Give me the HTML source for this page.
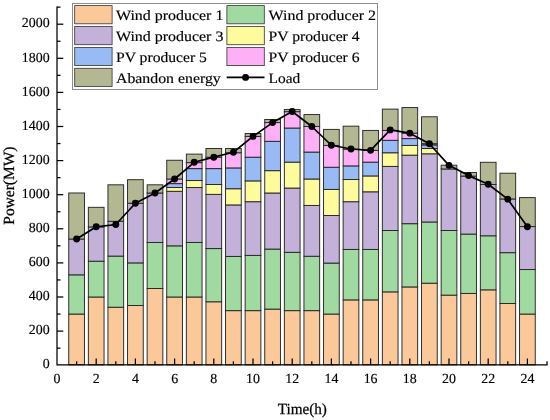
<!DOCTYPE html>
<html><head><meta charset="utf-8"><title>Power chart</title>
<style>html,body{margin:0;padding:0;background:#fff}svg{display:block}</style></head>
<body><svg width="550" height="420" viewBox="0 0 550 420" text-rendering="geometricPrecision">
<rect width="550" height="420" fill="#fff"/>
<g stroke="#262626" stroke-width="0.95">
<rect x="68.75" y="314.05" width="15.7" height="50.75" fill="#FBC999"/>
<rect x="68.75" y="274.83" width="15.7" height="39.21" fill="#A1DAA0"/>
<rect x="68.75" y="239.03" width="15.7" height="35.81" fill="#C3B1D9"/>
<rect x="68.75" y="192.99" width="15.7" height="46.03" fill="#B4B892"/>
<rect x="88.35" y="297.00" width="15.7" height="67.80" fill="#FBC999"/>
<rect x="88.35" y="261.19" width="15.7" height="35.81" fill="#A1DAA0"/>
<rect x="88.35" y="226.92" width="15.7" height="34.27" fill="#C3B1D9"/>
<rect x="88.35" y="207.32" width="15.7" height="19.61" fill="#B4B892"/>
<rect x="107.95" y="307.23" width="15.7" height="57.57" fill="#FBC999"/>
<rect x="107.95" y="256.08" width="15.7" height="51.15" fill="#A1DAA0"/>
<rect x="107.95" y="221.30" width="15.7" height="34.78" fill="#C3B1D9"/>
<rect x="107.95" y="184.81" width="15.7" height="36.49" fill="#B4B892"/>
<rect x="127.55" y="305.52" width="15.7" height="59.28" fill="#FBC999"/>
<rect x="127.55" y="262.90" width="15.7" height="42.62" fill="#A1DAA0"/>
<rect x="127.55" y="203.22" width="15.7" height="59.68" fill="#C3B1D9"/>
<rect x="127.55" y="179.70" width="15.7" height="23.53" fill="#B4B892"/>
<rect x="147.15" y="288.47" width="15.7" height="76.33" fill="#FBC999"/>
<rect x="147.15" y="242.44" width="15.7" height="46.03" fill="#A1DAA0"/>
<rect x="147.15" y="192.99" width="15.7" height="49.45" fill="#C3B1D9"/>
<rect x="147.15" y="184.81" width="15.7" height="8.18" fill="#B4B892"/>
<rect x="166.75" y="297.00" width="15.7" height="67.80" fill="#FBC999"/>
<rect x="166.75" y="245.85" width="15.7" height="51.15" fill="#A1DAA0"/>
<rect x="166.75" y="191.29" width="15.7" height="54.56" fill="#C3B1D9"/>
<rect x="166.75" y="187.54" width="15.7" height="3.75" fill="#FEFB9C"/>
<rect x="166.75" y="183.62" width="15.7" height="3.92" fill="#99BBF5"/>
<rect x="166.75" y="179.01" width="15.7" height="4.60" fill="#FEB0F6"/>
<rect x="166.75" y="160.26" width="15.7" height="18.75" fill="#B4B892"/>
<rect x="186.35" y="297.00" width="15.7" height="67.80" fill="#FBC999"/>
<rect x="186.35" y="242.44" width="15.7" height="54.56" fill="#A1DAA0"/>
<rect x="186.35" y="187.54" width="15.7" height="54.90" fill="#C3B1D9"/>
<rect x="186.35" y="180.55" width="15.7" height="6.99" fill="#FEFB9C"/>
<rect x="186.35" y="168.61" width="15.7" height="11.93" fill="#99BBF5"/>
<rect x="186.35" y="162.65" width="15.7" height="5.97" fill="#FEB0F6"/>
<rect x="186.35" y="154.12" width="15.7" height="8.53" fill="#B4B892"/>
<rect x="205.95" y="301.77" width="15.7" height="63.03" fill="#FBC999"/>
<rect x="205.95" y="248.58" width="15.7" height="53.20" fill="#A1DAA0"/>
<rect x="205.95" y="194.36" width="15.7" height="54.22" fill="#C3B1D9"/>
<rect x="205.95" y="184.47" width="15.7" height="9.89" fill="#FEFB9C"/>
<rect x="205.95" y="168.61" width="15.7" height="15.86" fill="#99BBF5"/>
<rect x="205.95" y="157.19" width="15.7" height="11.42" fill="#FEB0F6"/>
<rect x="205.95" y="148.49" width="15.7" height="8.70" fill="#B4B892"/>
<rect x="225.55" y="310.64" width="15.7" height="54.16" fill="#FBC999"/>
<rect x="225.55" y="256.42" width="15.7" height="54.22" fill="#A1DAA0"/>
<rect x="225.55" y="204.93" width="15.7" height="51.49" fill="#C3B1D9"/>
<rect x="225.55" y="188.73" width="15.7" height="16.20" fill="#FEFB9C"/>
<rect x="225.55" y="167.93" width="15.7" height="20.80" fill="#99BBF5"/>
<rect x="225.55" y="152.76" width="15.7" height="15.17" fill="#FEB0F6"/>
<rect x="225.55" y="148.49" width="15.7" height="4.26" fill="#B4B892"/>
<rect x="245.15" y="310.64" width="15.7" height="54.16" fill="#FBC999"/>
<rect x="245.15" y="255.40" width="15.7" height="55.24" fill="#A1DAA0"/>
<rect x="245.15" y="201.69" width="15.7" height="53.71" fill="#C3B1D9"/>
<rect x="245.15" y="180.89" width="15.7" height="20.80" fill="#FEFB9C"/>
<rect x="245.15" y="157.19" width="15.7" height="23.70" fill="#99BBF5"/>
<rect x="245.15" y="136.39" width="15.7" height="20.80" fill="#FEB0F6"/>
<rect x="245.15" y="133.49" width="15.7" height="2.90" fill="#B4B892"/>
<rect x="264.75" y="309.11" width="15.7" height="55.69" fill="#FBC999"/>
<rect x="264.75" y="249.09" width="15.7" height="60.02" fill="#A1DAA0"/>
<rect x="264.75" y="192.99" width="15.7" height="56.09" fill="#C3B1D9"/>
<rect x="264.75" y="170.66" width="15.7" height="22.34" fill="#FEFB9C"/>
<rect x="264.75" y="141.33" width="15.7" height="29.33" fill="#99BBF5"/>
<rect x="264.75" y="122.58" width="15.7" height="18.75" fill="#FEB0F6"/>
<rect x="264.75" y="119.51" width="15.7" height="3.07" fill="#B4B892"/>
<rect x="284.35" y="310.64" width="15.7" height="54.16" fill="#FBC999"/>
<rect x="284.35" y="252.33" width="15.7" height="58.31" fill="#A1DAA0"/>
<rect x="284.35" y="188.05" width="15.7" height="64.28" fill="#C3B1D9"/>
<rect x="284.35" y="162.13" width="15.7" height="25.92" fill="#FEFB9C"/>
<rect x="284.35" y="128.03" width="15.7" height="34.10" fill="#99BBF5"/>
<rect x="284.35" y="111.67" width="15.7" height="16.37" fill="#FEB0F6"/>
<rect x="284.35" y="109.45" width="15.7" height="2.22" fill="#B4B892"/>
<rect x="303.95" y="310.64" width="15.7" height="54.16" fill="#FBC999"/>
<rect x="303.95" y="256.25" width="15.7" height="54.39" fill="#A1DAA0"/>
<rect x="303.95" y="205.44" width="15.7" height="50.81" fill="#C3B1D9"/>
<rect x="303.95" y="179.01" width="15.7" height="26.43" fill="#FEFB9C"/>
<rect x="303.95" y="152.07" width="15.7" height="26.94" fill="#99BBF5"/>
<rect x="303.95" y="126.50" width="15.7" height="25.57" fill="#FEB0F6"/>
<rect x="303.95" y="114.56" width="15.7" height="11.94" fill="#B4B892"/>
<rect x="323.55" y="314.05" width="15.7" height="50.75" fill="#FBC999"/>
<rect x="323.55" y="263.07" width="15.7" height="50.98" fill="#A1DAA0"/>
<rect x="323.55" y="215.50" width="15.7" height="47.57" fill="#C3B1D9"/>
<rect x="323.55" y="189.41" width="15.7" height="26.09" fill="#FEFB9C"/>
<rect x="323.55" y="167.25" width="15.7" height="22.16" fill="#99BBF5"/>
<rect x="323.55" y="145.43" width="15.7" height="21.82" fill="#FEB0F6"/>
<rect x="323.55" y="129.40" width="15.7" height="16.03" fill="#B4B892"/>
<rect x="343.15" y="299.90" width="15.7" height="64.90" fill="#FBC999"/>
<rect x="343.15" y="249.43" width="15.7" height="50.47" fill="#A1DAA0"/>
<rect x="343.15" y="201.69" width="15.7" height="47.74" fill="#C3B1D9"/>
<rect x="343.15" y="179.53" width="15.7" height="22.17" fill="#FEFB9C"/>
<rect x="343.15" y="165.89" width="15.7" height="13.64" fill="#99BBF5"/>
<rect x="343.15" y="149.18" width="15.7" height="16.71" fill="#FEB0F6"/>
<rect x="343.15" y="126.16" width="15.7" height="23.02" fill="#B4B892"/>
<rect x="362.75" y="299.90" width="15.7" height="64.90" fill="#FBC999"/>
<rect x="362.75" y="249.43" width="15.7" height="50.47" fill="#A1DAA0"/>
<rect x="362.75" y="191.80" width="15.7" height="57.63" fill="#C3B1D9"/>
<rect x="362.75" y="175.94" width="15.7" height="15.86" fill="#FEFB9C"/>
<rect x="362.75" y="162.13" width="15.7" height="13.81" fill="#99BBF5"/>
<rect x="362.75" y="150.37" width="15.7" height="11.76" fill="#FEB0F6"/>
<rect x="362.75" y="130.42" width="15.7" height="19.95" fill="#B4B892"/>
<rect x="382.35" y="291.88" width="15.7" height="72.92" fill="#FBC999"/>
<rect x="382.35" y="230.50" width="15.7" height="61.38" fill="#A1DAA0"/>
<rect x="382.35" y="166.40" width="15.7" height="64.11" fill="#C3B1D9"/>
<rect x="382.35" y="152.76" width="15.7" height="13.64" fill="#FEFB9C"/>
<rect x="382.35" y="140.31" width="15.7" height="12.45" fill="#99BBF5"/>
<rect x="382.35" y="130.42" width="15.7" height="9.89" fill="#FEB0F6"/>
<rect x="382.35" y="109.11" width="15.7" height="21.31" fill="#B4B892"/>
<rect x="401.95" y="286.94" width="15.7" height="77.86" fill="#FBC999"/>
<rect x="401.95" y="223.68" width="15.7" height="63.26" fill="#A1DAA0"/>
<rect x="401.95" y="155.14" width="15.7" height="68.54" fill="#C3B1D9"/>
<rect x="401.95" y="145.43" width="15.7" height="9.72" fill="#FEFB9C"/>
<rect x="401.95" y="138.61" width="15.7" height="6.82" fill="#99BBF5"/>
<rect x="401.95" y="133.15" width="15.7" height="5.46" fill="#FEB0F6"/>
<rect x="401.95" y="107.57" width="15.7" height="25.58" fill="#B4B892"/>
<rect x="421.55" y="283.19" width="15.7" height="81.61" fill="#FBC999"/>
<rect x="421.55" y="221.98" width="15.7" height="61.21" fill="#A1DAA0"/>
<rect x="421.55" y="153.78" width="15.7" height="68.20" fill="#C3B1D9"/>
<rect x="421.55" y="148.49" width="15.7" height="5.29" fill="#FEFB9C"/>
<rect x="421.55" y="144.91" width="15.7" height="3.58" fill="#99BBF5"/>
<rect x="421.55" y="143.72" width="15.7" height="1.19" fill="#FEB0F6"/>
<rect x="421.55" y="116.78" width="15.7" height="26.94" fill="#B4B892"/>
<rect x="441.15" y="295.12" width="15.7" height="69.68" fill="#FBC999"/>
<rect x="441.15" y="230.50" width="15.7" height="64.62" fill="#A1DAA0"/>
<rect x="441.15" y="168.95" width="15.7" height="61.55" fill="#C3B1D9"/>
<rect x="441.15" y="165.20" width="15.7" height="3.75" fill="#B4B892"/>
<rect x="460.75" y="293.42" width="15.7" height="71.38" fill="#FBC999"/>
<rect x="460.75" y="234.09" width="15.7" height="59.33" fill="#A1DAA0"/>
<rect x="460.75" y="176.12" width="15.7" height="57.97" fill="#C3B1D9"/>
<rect x="460.75" y="172.53" width="15.7" height="3.58" fill="#B4B892"/>
<rect x="480.35" y="289.84" width="15.7" height="74.96" fill="#FBC999"/>
<rect x="480.35" y="235.79" width="15.7" height="54.05" fill="#A1DAA0"/>
<rect x="480.35" y="184.47" width="15.7" height="51.32" fill="#C3B1D9"/>
<rect x="480.35" y="162.30" width="15.7" height="22.16" fill="#B4B892"/>
<rect x="499.95" y="303.48" width="15.7" height="61.32" fill="#FBC999"/>
<rect x="499.95" y="252.67" width="15.7" height="50.81" fill="#A1DAA0"/>
<rect x="499.95" y="198.96" width="15.7" height="53.71" fill="#C3B1D9"/>
<rect x="499.95" y="173.22" width="15.7" height="25.75" fill="#B4B892"/>
<rect x="519.55" y="314.05" width="15.7" height="50.75" fill="#FBC999"/>
<rect x="519.55" y="269.55" width="15.7" height="44.50" fill="#A1DAA0"/>
<rect x="519.55" y="226.58" width="15.7" height="42.97" fill="#C3B1D9"/>
<rect x="519.55" y="197.60" width="15.7" height="28.99" fill="#B4B892"/>
</g>
<g stroke="#000" stroke-width="1.25" fill="none">
<path d="M57.0 6.55V364.8H547.60"/>
<path d="M57.0 348.15h3.5"/>
<path d="M57.0 331.10h6.3"/>
<path d="M57.0 314.05h3.5"/>
<path d="M57.0 297.00h6.3"/>
<path d="M57.0 279.95h3.5"/>
<path d="M57.0 262.90h6.3"/>
<path d="M57.0 245.85h3.5"/>
<path d="M57.0 228.80h6.3"/>
<path d="M57.0 211.75h3.5"/>
<path d="M57.0 194.70h6.3"/>
<path d="M57.0 177.65h3.5"/>
<path d="M57.0 160.60h6.3"/>
<path d="M57.0 143.55h3.5"/>
<path d="M57.0 126.50h6.3"/>
<path d="M57.0 109.45h3.5"/>
<path d="M57.0 92.40h6.3"/>
<path d="M57.0 75.35h3.5"/>
<path d="M57.0 58.30h6.3"/>
<path d="M57.0 41.25h3.5"/>
<path d="M57.0 24.20h6.3"/>
<path d="M57.0 7.15h3.5"/>
<path d="M76.60 364.8v-3.5"/>
<path d="M96.20 364.8v-6.3"/>
<path d="M115.80 364.8v-3.5"/>
<path d="M135.40 364.8v-6.3"/>
<path d="M155.00 364.8v-3.5"/>
<path d="M174.60 364.8v-6.3"/>
<path d="M194.20 364.8v-3.5"/>
<path d="M213.80 364.8v-6.3"/>
<path d="M233.40 364.8v-3.5"/>
<path d="M253.00 364.8v-6.3"/>
<path d="M272.60 364.8v-3.5"/>
<path d="M292.20 364.8v-6.3"/>
<path d="M311.80 364.8v-3.5"/>
<path d="M331.40 364.8v-6.3"/>
<path d="M351.00 364.8v-3.5"/>
<path d="M370.60 364.8v-6.3"/>
<path d="M390.20 364.8v-3.5"/>
<path d="M409.80 364.8v-6.3"/>
<path d="M429.40 364.8v-3.5"/>
<path d="M449.00 364.8v-6.3"/>
<path d="M468.60 364.8v-3.5"/>
<path d="M488.20 364.8v-6.3"/>
<path d="M507.80 364.8v-3.5"/>
<path d="M527.40 364.8v-6.3"/>
<path d="M547.00 364.8v-3.5"/>
</g>
<polyline points="76.60,239.03 96.20,226.75 115.80,224.54 135.40,203.22 155.00,192.99 174.60,179.01 194.20,162.30 213.80,157.19 233.40,152.25 253.00,136.39 272.60,122.58 292.20,111.50 311.80,126.50 331.40,145.25 351.00,149.01 370.60,150.37 390.20,129.91 409.80,133.15 429.40,143.72 449.00,165.37 468.60,175.60 488.20,184.30 507.80,199.13 527.40,226.75" fill="none" stroke="#000" stroke-width="1.7" stroke-linejoin="round"/>
<circle cx="76.60" cy="239.03" r="3.45" fill="#000"/>
<circle cx="96.20" cy="226.75" r="3.45" fill="#000"/>
<circle cx="115.80" cy="224.54" r="3.45" fill="#000"/>
<circle cx="135.40" cy="203.22" r="3.45" fill="#000"/>
<circle cx="155.00" cy="192.99" r="3.45" fill="#000"/>
<circle cx="174.60" cy="179.01" r="3.45" fill="#000"/>
<circle cx="194.20" cy="162.30" r="3.45" fill="#000"/>
<circle cx="213.80" cy="157.19" r="3.45" fill="#000"/>
<circle cx="233.40" cy="152.25" r="3.45" fill="#000"/>
<circle cx="253.00" cy="136.39" r="3.45" fill="#000"/>
<circle cx="272.60" cy="122.58" r="3.45" fill="#000"/>
<circle cx="292.20" cy="111.50" r="3.45" fill="#000"/>
<circle cx="311.80" cy="126.50" r="3.45" fill="#000"/>
<circle cx="331.40" cy="145.25" r="3.45" fill="#000"/>
<circle cx="351.00" cy="149.01" r="3.45" fill="#000"/>
<circle cx="370.60" cy="150.37" r="3.45" fill="#000"/>
<circle cx="390.20" cy="129.91" r="3.45" fill="#000"/>
<circle cx="409.80" cy="133.15" r="3.45" fill="#000"/>
<circle cx="429.40" cy="143.72" r="3.45" fill="#000"/>
<circle cx="449.00" cy="165.37" r="3.45" fill="#000"/>
<circle cx="468.60" cy="175.60" r="3.45" fill="#000"/>
<circle cx="488.20" cy="184.30" r="3.45" fill="#000"/>
<circle cx="507.80" cy="199.13" r="3.45" fill="#000"/>
<circle cx="527.40" cy="226.75" r="3.45" fill="#000"/>
<rect x="72.5" y="3.5" width="305" height="86" fill="#fff" stroke="#8c8c8c" stroke-width="1"/>
<g font-family="'Liberation Serif', serif" font-size="14.3" fill="#000">
<rect x="74.7" y="5.6" width="37.4" height="18.2" fill="#FBC999" stroke="#333" stroke-width="0.8"/>
<text transform="translate(116.0,20.3) scale(1.115,1)" stroke="#000" stroke-width="0.15">Wind producer 1</text>
<rect x="226.89999999999998" y="5.6" width="37.4" height="18.2" fill="#A1DAA0" stroke="#333" stroke-width="0.8"/>
<text transform="translate(268.6,20.3) scale(1.115,1)" stroke="#000" stroke-width="0.15">Wind producer 2</text>
<rect x="74.7" y="26.5" width="37.4" height="18.2" fill="#C3B1D9" stroke="#333" stroke-width="0.8"/>
<text transform="translate(116.0,41.2) scale(1.115,1)" stroke="#000" stroke-width="0.15">Wind producer 3</text>
<rect x="226.89999999999998" y="26.5" width="37.4" height="18.2" fill="#FEFB9C" stroke="#333" stroke-width="0.8"/>
<text transform="translate(268.6,41.2) scale(1.094,1)" stroke="#000" stroke-width="0.15">PV producer 4</text>
<rect x="74.7" y="47.4" width="37.4" height="18.2" fill="#99BBF5" stroke="#333" stroke-width="0.8"/>
<text transform="translate(116.0,62.1) scale(1.094,1)" stroke="#000" stroke-width="0.15">PV producer 5</text>
<rect x="226.89999999999998" y="47.4" width="37.4" height="18.2" fill="#FEB0F6" stroke="#333" stroke-width="0.8"/>
<text transform="translate(268.6,62.1) scale(1.094,1)" stroke="#000" stroke-width="0.15">PV producer 6</text>
<rect x="74.7" y="68.3" width="37.4" height="18.2" fill="#B4B892" stroke="#333" stroke-width="0.8"/>
<text transform="translate(116.0,83.0) scale(1.107,1)" stroke="#000" stroke-width="0.15">Abandon energy</text>
<path d="M226.7 77.4h37.8" stroke="#000" stroke-width="1.7"/><circle cx="245.6" cy="77.4" r="3.45" fill="#000"/>
<text transform="translate(268.6,83.0) scale(1.078,1)" stroke="#000" stroke-width="0.15">Load</text>
</g>
<g font-family="'Liberation Serif', serif" font-size="13.9" fill="#000" stroke="#000" stroke-width="0.15">
<text transform="translate(49.6,368.40) scale(1,1)" text-anchor="end">0</text>
<text transform="translate(49.6,334.30) scale(1,1)" text-anchor="end">200</text>
<text transform="translate(49.6,300.20) scale(1,1)" text-anchor="end">400</text>
<text transform="translate(49.6,266.10) scale(1,1)" text-anchor="end">600</text>
<text transform="translate(49.6,232.00) scale(1,1)" text-anchor="end">800</text>
<text transform="translate(49.6,197.90) scale(1,1)" text-anchor="end">1000</text>
<text transform="translate(49.6,163.80) scale(1,1)" text-anchor="end">1200</text>
<text transform="translate(49.6,129.70) scale(1,1)" text-anchor="end">1400</text>
<text transform="translate(49.6,95.60) scale(1,1)" text-anchor="end">1600</text>
<text transform="translate(49.6,61.50) scale(1,1)" text-anchor="end">1800</text>
<text transform="translate(49.6,27.40) scale(1,1)" text-anchor="end">2000</text>
<text transform="translate(57.00,382.6) scale(1,1)" text-anchor="middle">0</text>
<text transform="translate(96.20,382.6) scale(1,1)" text-anchor="middle">2</text>
<text transform="translate(135.40,382.6) scale(1,1)" text-anchor="middle">4</text>
<text transform="translate(174.60,382.6) scale(1,1)" text-anchor="middle">6</text>
<text transform="translate(213.80,382.6) scale(1,1)" text-anchor="middle">8</text>
<text transform="translate(253.00,382.6) scale(1,1)" text-anchor="middle">10</text>
<text transform="translate(292.20,382.6) scale(1,1)" text-anchor="middle">12</text>
<text transform="translate(331.40,382.6) scale(1,1)" text-anchor="middle">14</text>
<text transform="translate(370.60,382.6) scale(1,1)" text-anchor="middle">16</text>
<text transform="translate(409.80,382.6) scale(1,1)" text-anchor="middle">18</text>
<text transform="translate(449.00,382.6) scale(1,1)" text-anchor="middle">20</text>
<text transform="translate(488.20,382.6) scale(1,1)" text-anchor="middle">22</text>
<text transform="translate(527.40,382.6) scale(1,1)" text-anchor="middle">24</text>
</g>
<g font-family="'Liberation Serif', serif" font-size="15.5" fill="#000" stroke="#000" stroke-width="0.25">
<text transform="translate(302.3,414.2) scale(0.98,1)" text-anchor="middle">Time(h)</text>
<text transform="translate(14.4,185.6) rotate(-90) scale(0.997,1)" text-anchor="middle">Power(MW)</text>
</g>
</svg></body></html>
